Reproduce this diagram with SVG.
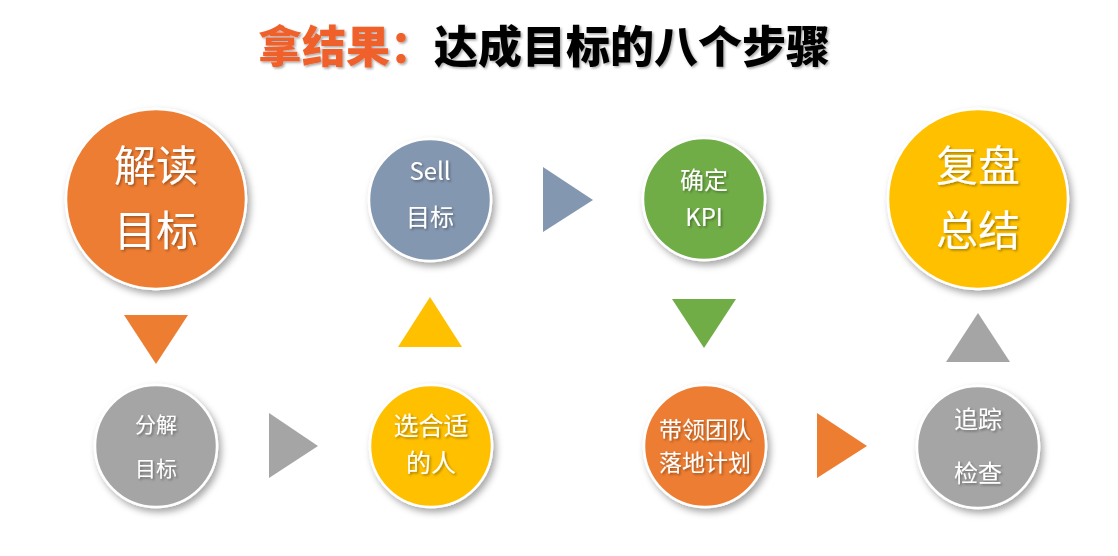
<svg xmlns="http://www.w3.org/2000/svg" width="1118" height="556" viewBox="0 0 1118 556">
<defs>
<filter id="cs" x="-20%" y="-20%" width="150%" height="150%">
<feDropShadow dx="3" dy="4" stdDeviation="3.5" flood-color="#000" flood-opacity="0.35"/>
</filter>
<filter id="ts" x="-10%" y="-10%" width="130%" height="140%">
<feDropShadow dx="1.5" dy="1.5" stdDeviation="1" flood-color="#000" flood-opacity="0.35"/>
</filter>
</defs>
<style>
.c{stroke:#fff;stroke-width:2.5;filter:url(#cs)}
.t{font-family:"Noto Sans CJK SC","Microsoft YaHei",sans-serif;fill:#fff;text-anchor:middle;filter:url(#ts)}
.title{font-family:"Noto Sans CJK SC",sans-serif;font-weight:900;font-size:44px;filter:url(#ts)}
</style>
<rect width="1118" height="556" fill="#fff"/>
<text class="title" x="258" y="63"><tspan fill="#F0602B">拿结果：</tspan><tspan fill="#000">达成目标的八个步骤</tspan></text>

<g id="n1"><circle class="c" cx="156" cy="199" r="90" fill="#ED7D31"/>
<text class="t" font-size="42"><tspan x="156" y="181">解读</tspan><tspan x="156" y="246">目标</tspan></text></g>
<g id="n2"><circle class="c" cx="156" cy="446" r="61" fill="#A5A5A5"/>
<text class="t" font-size="21"><tspan x="156" y="432">分解</tspan><tspan x="156" y="476">目标</tspan></text></g>
<g id="n3"><circle class="c" cx="431" cy="446" r="61" fill="#FFC000"/>
<text class="t" font-size="25"><tspan x="431" y="435">选合适</tspan><tspan x="431" y="472">的人</tspan></text></g>
<g id="n4"><circle class="c" cx="430" cy="200" r="61" fill="#8497B0"/>
<text class="t" font-size="24"><tspan x="430" y="180">Sell</tspan><tspan x="430" y="226">目标</tspan></text></g>
<g id="n5"><circle class="c" cx="704" cy="199" r="61" fill="#70AD47"/>
<text class="t" font-size="24"><tspan x="704" y="189">确定</tspan><tspan x="704" y="226">KPI</tspan></text></g>
<g id="n6"><circle class="c" cx="705" cy="446" r="61" fill="#ED7D31"/>
<text class="t" font-size="23"><tspan x="705" y="438">带领团队</tspan><tspan x="705" y="471">落地计划</tspan></text></g>
<g id="n7"><circle class="c" cx="978" cy="447" r="61" fill="#A5A5A5"/>
<text class="t" font-size="24"><tspan x="978" y="428">追踪</tspan><tspan x="978" y="482">检查</tspan></text></g>
<g id="n8"><circle class="c" cx="978" cy="199" r="90" fill="#FFC000"/>
<text class="t" font-size="42"><tspan x="978" y="181">复盘</tspan><tspan x="978" y="246">总结</tspan></text></g>

<g id="connectors">
<polygon points="124,315 188,315 156,364" fill="#ED7D31"/>
<polygon points="269,413 318,446 269,478" fill="#A5A5A5"/>
<polygon points="398,347 430,297 462,347" fill="#FFC000"/>
<polygon points="543,167 593,200 543,232" fill="#8497B0"/>
<polygon points="672,299 736,299 704,348" fill="#70AD47"/>
<polygon points="817,413 867,446 817,478" fill="#ED7D31"/>
<polygon points="946,362 978,313 1010,362" fill="#A5A5A5"/>
</g>
</svg>
